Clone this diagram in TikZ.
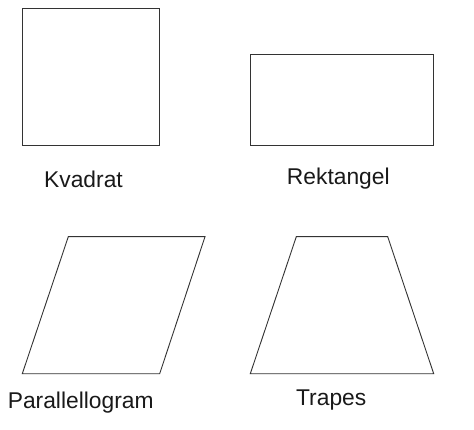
\documentclass[tikz,border=0pt]{standalone}
\usepackage{fontspec}
\setmainfont{Liberation Sans}
\begin{document}
\begin{tikzpicture}[x=1pt,y=-1pt,
  shape line/.style={draw=black!80,line width=0.9pt,line join=miter},
  label text/.style={inner sep=0pt,anchor=base,font=\fontsize{22.8}{26}\selectfont,text=black!90}]
\useasboundingbox (0,0) rectangle (474,430);
% Kvadrat
\draw[shape line] (22,8) rectangle (159.5,145.5);
\node[label text] (kvadrat) at (83.5,188) {Kvadrat};
% Rektangel
\draw[shape line] (250.3,54) rectangle (433.7,145.5);
\node[label text] (rektangel) at (338.3,185) {Rektangel};
% Parallellogram
\draw[shape line] (68.3,236.7) -- (205,236.7) -- (159.7,373.7) -- (22.3,373.7) -- cycle;
\node[label text] (parallellogram) at (80.7,408.3) {Parallellogram};
% Trapes
\draw[shape line] (296.3,236.7) -- (387.7,236.7) -- (433.7,373.7) -- (250.3,373.7) -- cycle;
\node[label text] (trapes) at (331.2,405) {Trapes};
\end{tikzpicture}
\end{document}
